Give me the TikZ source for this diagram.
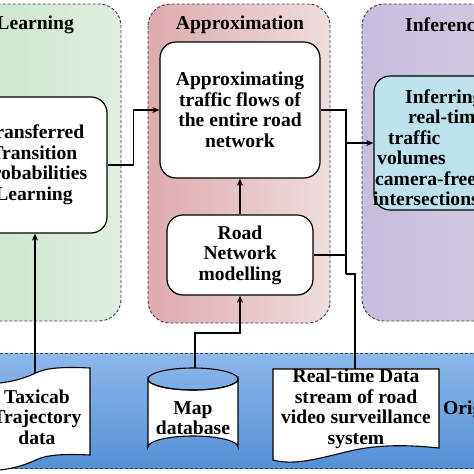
\documentclass[tikz,border=0pt]{standalone}
\usepackage{fontspec}
\setmainfont{Liberation Serif}
\usetikzlibrary{arrows.meta}
\definecolor{gL}{RGB}{196,225,196}
\definecolor{gR}{RGB}{224,239,224}
\definecolor{pL}{RGB}{222,170,174}
\definecolor{pR}{RGB}{238,222,222}
\definecolor{vL}{RGB}{200,190,220}
\definecolor{vR}{RGB}{214,206,228}
\definecolor{cy}{RGB}{188,226,236}
\definecolor{bT}{RGB}{140,184,236}
\definecolor{bB}{RGB}{84,144,214}
\definecolor{dashc}{RGB}{60,60,70}
\begin{document}
\begin{tikzpicture}[x=1pt,y=-1pt,
 txt/.style={font=\bfseries\fontsize{19.6}{20.5}\selectfont, align=center, inner sep=0pt},
 box/.style={txt, draw=black, line width=1.2pt, rounded corners=16pt, fill=white},
 panel/.style={draw=dashc, dash pattern=on 3pt off 2pt, line width=0.9pt, rounded corners=22pt},
 conn/.style={line width=1.3pt},
 arr/.style={conn, -{Stealth[length=7pt,width=6pt,inset=2pt]}},
 datashape/.style={draw=black, line width=1.1pt, fill=white}]
\useasboundingbox (0,0) rectangle (474,474);
\clip (0,0) rectangle (474,474);
\fill[white] (0,0) rectangle (474,474);
% panels
\path[panel, left color=gL, right color=gR] (-80,4) rectangle (121,321);
\path[panel, left color=pL, right color=pR] (148,4) rectangle (330,323);
\path[panel, left color=vL, right color=vR] (362,4) rectangle (560,321);
\path[draw=dashc, dash pattern=on 3pt off 2pt, line width=0.9pt, top color=bT, bottom color=bB] (-10,353) rectangle (484,468);
% titles
\node[txt, anchor=east] (tLearn) at (74,25) {Learning};
\node[txt] (tApprox) at (240,25) {Approximation};
\node[txt, anchor=west] (tInfer) at (405,25) {Inference};
\node[txt, anchor=west] (tOri) at (443,410) {Original};
% boxes
\node[box, minimum width=146pt, minimum height=136pt] (tl) at (34,165) {Transferred\\Transition\\Probabilities\\Learning};
\node[box, minimum width=160pt, minimum height=136pt] (ap) at (240,110) {Approximating\\traffic flows of\\the entire road\\network};
\node[box, minimum width=146pt, minimum height=80pt] (rn) at (240,255) {Road\\Network\\modelling};
\node[box, fill=cy, minimum width=162pt, minimum height=134pt] (inf) at (455,143) {};
\node[txt, align=left, anchor=west] (inftext) at (373,147.5) {\hspace*{32pt}Inferring\\\hspace*{35pt}real-time\\\hspace*{15pt}traffic\\\hspace*{4pt}volumes\\\hspace*{2pt}camera-free\\intersections};
% taxicab tape shape
\path[datashape] (-20,384) .. controls (10,384) and (25,378) .. (38,372) .. controls (50,367) and (70,367) .. (90,368)
  -- (90,455) .. controls (70,454) and (50,454) .. (38,459) .. controls (25,465) and (10,471) .. (-20,471) -- cycle;
\node[txt] (taxi) at (37,417) {Taxicab\\Trajectory\\data};
\coordinate (taxitop) at (35,373);
% map cylinder
\path[datashape] (148,379) arc[start angle=180, end angle=360, x radius=45, y radius=-11] -- (238,447)
  arc[start angle=0, end angle=180, x radius=45, y radius=-11] -- cycle;
\draw[line width=1.1pt] (193,379) ellipse[x radius=45, y radius=11];
\node[txt] (map) at (193,418) {Map\\database};
\coordinate (maptop) at (195,368);
% real-time document
\path[datashape] (273,369) -- (439,369) -- (439,448) .. controls (410,445) and (380,444) .. (350,451)
  .. controls (320,458) and (295,466) .. (273,460) -- cycle;
\node[txt] (rt) at (356,409) {Real-time Data\\stream of road\\video surveillance\\system};
\coordinate (rttop) at (355,369);
% connectors
\draw[arr] (taxitop) -- (taxitop |- tl.south);
\draw[arr] (tl.east) -- ++(26,0) |- (ap.west);
\draw[arr] (maptop) -- ++(0,-35) -| (rn.south);
\draw[arr] (rn.north) -- (ap.south);
\coordinate (jb) at (346,274);
\draw[conn] (ap.east) -| (jb);
\draw[conn] (rn.east) -- (rn.east -| jb);
\draw[conn] (jb) -- (rttop |- jb) -- (rttop);
\draw[arr] (jb |- inf.west) -- (inf.west);
\end{tikzpicture}
\end{document}
